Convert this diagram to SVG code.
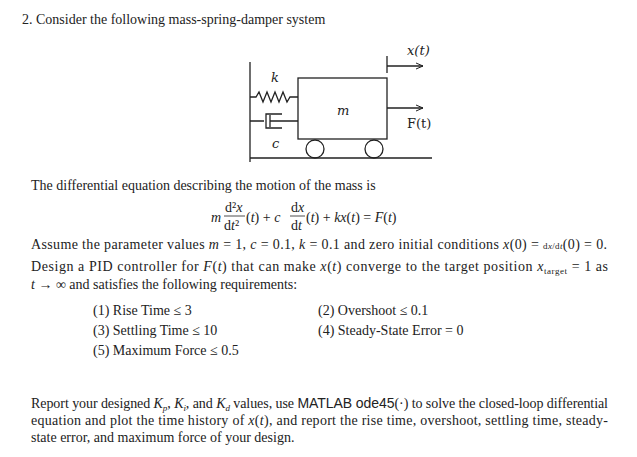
<svg xmlns="http://www.w3.org/2000/svg" width="637" height="457" viewBox="0 0 637 457">
<style>
text{font-family:"Liberation Serif",serif;font-size:14px;fill:#222}
.i{font-style:italic}
.s{font-family:"DejaVu Serif",serif;font-style:italic;font-size:13px}
.ln{stroke:#222;stroke-width:1.3;fill:none}
</style>
<defs><marker id="a" markerWidth="8" markerHeight="8" refX="7" refY="4" orient="auto" markerUnits="userSpaceOnUse"><path d="M0,1 L7,4 L0,7" fill="none" stroke="#222" stroke-width="1"/></marker></defs>
<rect width="637" height="457" fill="#fff"/>
<text x="22" y="24">2.  Consider the following mass-spring-damper system</text>
<g id="ground"><path class="ln" d="M250,62 V162 M250,158 H432"/></g>
<g id="mass"><rect x="298" y="78" width="89" height="61" class="ln"/><text x="337" y="115" class="s" font-size="12">m</text></g>
<g id="spring"><path class="ln" d="M250,97 H256 L259,92 L263,102 L267,92 L271,102 L275,92 L279,102 L283,92 L287,102 L290,97 H298"/><text x="271" y="82" class="s">k</text></g>
<g id="damper"><path class="ln" d="M250,121 H264 M282,114 H266 V128 H282 M270,115 V127 M270,121 H298"/><text x="272" y="148" class="s">c</text></g>
<g id="wheels"><circle cx="315" cy="149" r="9" class="ln"/><circle cx="374" cy="149" r="9" class="ln"/></g>
<g id="connectors"><path class="ln" d="M387,56 V73"/><path class="ln" d="M387,66 H423" marker-end="url(#a)"/><path class="ln" d="M387,108 H423" marker-end="url(#a)"/></g>
<g id="labels"><text x="407" y="55" class="s" font-size="14">x(t)</text><text x="407" y="128" class="s" font-size="14" style="font-style:normal">F(t)</text></g>
<text x="31" y="190">The differential equation describing the motion of the mass is</text>
<g id="eq">
<text x="211" y="222" class="i">m</text>
<text x="225" y="212" font-size="12">d²<tspan class="i">x</tspan></text>
<line x1="224" y1="216" x2="245" y2="216" stroke="#222" stroke-width="0.8"/>
<text x="224" y="230" font-size="12">d<tspan class="i">t</tspan>²</text>
<text x="246" y="222">(<tspan class="i">t</tspan>) + <tspan class="i">c</tspan></text>
<text x="291" y="212" font-size="12">d<tspan class="i">x</tspan></text>
<line x1="290" y1="216" x2="305" y2="216" stroke="#222" stroke-width="0.8"/>
<text x="291" y="230" font-size="12">d<tspan class="i">t</tspan></text>
<text x="306" y="222">(<tspan class="i">t</tspan>) + <tspan class="i">kx</tspan>(<tspan class="i">t</tspan>) = <tspan class="i">F</tspan>(<tspan class="i">t</tspan>)</text>
</g>
<text x="31" y="249" textLength="576">Assume the parameter values <tspan class="i">m</tspan> = 1, <tspan class="i">c</tspan> = 0.1, <tspan class="i">k</tspan> = 0.1 and zero initial conditions <tspan class="i">x</tspan>(0) = <tspan font-size="9">d<tspan class="i">x</tspan>/d<tspan class="i">t</tspan></tspan>(0) = 0.</text>
<text x="31" y="271" textLength="577">Design a PID controller for <tspan class="i">F</tspan>(<tspan class="i">t</tspan>) that can make <tspan class="i">x</tspan>(<tspan class="i">t</tspan>) converge to the target position <tspan class="i">x</tspan><tspan font-size="9" dy="3">target</tspan><tspan dy="-3"> = 1 as</tspan></text>
<text x="31" y="289"><tspan class="i">t</tspan> → ∞ and satisfies the following requirements:</text>
<g id="reqs">
<text x="93" y="315">(1)  Rise Time ≤ 3</text>
<text x="318" y="315">(2)  Overshoot ≤ 0.1</text>
<text x="93" y="335">(3)  Settling Time ≤ 10</text>
<text x="318" y="335">(4)  Steady-State Error = 0</text>
<text x="93" y="355">(5)  Maximum Force ≤ 0.5</text>
</g>
<text x="31" y="408" textLength="577">Report your designed <tspan class="i">K</tspan><tspan font-size="9" dy="3" class="i">p</tspan><tspan dy="-3">, </tspan><tspan class="i">K</tspan><tspan font-size="9" dy="3" class="i">i</tspan><tspan dy="-3">, and </tspan><tspan class="i">K</tspan><tspan font-size="9" dy="3" class="i">d</tspan><tspan dy="-3"> values, use </tspan><tspan font-family="Liberation Sans">MATLAB ode45</tspan>(·) to solve the closed-loop differential</text>
<text x="31" y="425" textLength="577">equation and plot the time history of <tspan class="i">x</tspan>(<tspan class="i">t</tspan>), and report the rise time, overshoot, settling time, steady-</text>
<text x="31" y="442">state error, and maximum force of your design.</text>
</svg>
